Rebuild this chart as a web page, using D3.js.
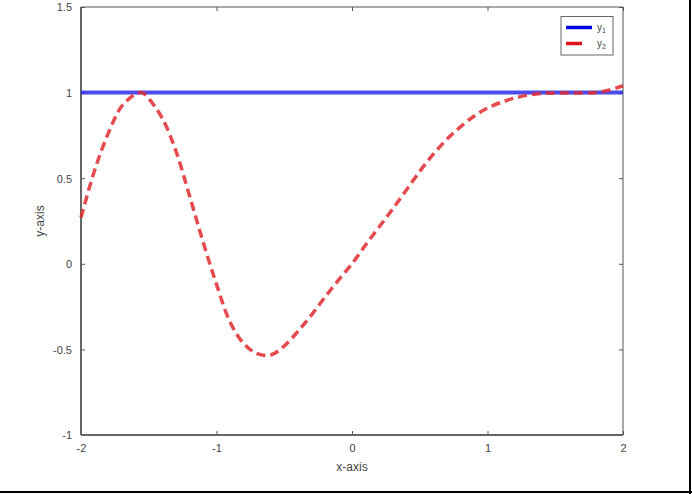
<!DOCTYPE html>
<html>
<head>
<meta charset="utf-8">
<script src="https://cdn.jsdelivr.net/npm/d3@7"></script>
<style>
  body { margin: 0; background: #fff; }
  svg { display: block; }
  text { font-family: "Liberation Sans", Arial, sans-serif; fill: #444; }
</style>
</head>
<body>
<div id="container"></div>
<script>

// data
const xDomain = [-2, 2];
const yDomain = [-1, 1.5];
const xTicks = [-2, -1, 0, 1, 2];
const yTicks = [-1, -0.5, 0, 0.5, 1, 1.5];

const y1X = [-2, 2];
const y1Values = [1, 1];

const y2X = [-2.0, -1.9, -1.8, -1.7, -1.6, -1.55, -1.5, -1.4, -1.3, -1.2, -1.1, -1.0,
    -0.9, -0.8, -0.7, -0.6, -0.5, -0.4, -0.3, -0.2, -0.1, 0.0,
    0.1, 0.2, 0.3, 0.4, 0.5, 0.6, 0.7, 0.8, 0.9, 1.0,
    1.1, 1.2, 1.3, 1.4, 1.5, 1.6, 1.7, 1.8, 1.9, 2.0];
const y2Values = [0.27, 0.545, 0.76, 0.92, 0.99, 1.0, 0.965, 0.85, 0.66, 0.40, 0.13, -0.12,
    -0.34, -0.465, -0.525, -0.533, -0.48, -0.395, -0.30, -0.195, -0.095, 0.0,
    0.11, 0.215, 0.32, 0.43, 0.54, 0.64, 0.727, 0.80, 0.862, 0.91,
    0.943, 0.968, 0.985, 0.995, 0.998, 0.998, 0.998, 1.0, 1.015, 1.04];

const legendLabels = ["1", "2"];

// plain hyphen minus like the original
const tickFormat = d => String(d);

function main() {
    const svgWidth = 692;
    const svgHeight = 494;
    const margin = {left: 81, right: 69, top: 7, bottom: 59};

    const svg = d3.select("#container")
        .append("svg")
        .attr("width", svgWidth)
        .attr("height", svgHeight);

    const xScale = d3.scaleLinear()
        .domain(xDomain)
        .range([margin.left, svgWidth - margin.right]);

    const yScale = d3.scaleLinear()
        .domain(yDomain)
        .range([svgHeight - margin.bottom, margin.top]);

    const x0 = xScale.range()[0], x1 = xScale.range()[1];
    const yb = yScale.range()[0], yt = yScale.range()[1];

    // axes with inward ticks
    const bottomAxis = svg.append("g")
        .attr("transform", `translate(0,${yb})`)
        .call(d3.axisBottom(xScale).tickValues(xTicks).tickSize(-4).tickPadding(9).tickFormat(tickFormat));
    const leftAxis = svg.append("g")
        .attr("transform", `translate(${x0},0)`)
        .call(d3.axisLeft(yScale).tickValues(yTicks).tickSize(-4).tickPadding(9).tickFormat(tickFormat));
    const topAxis = svg.append("g")
        .attr("transform", `translate(0,${yt})`)
        .call(d3.axisTop(xScale).tickValues(xTicks).tickSize(-4).tickFormat(""));
    const rightAxis = svg.append("g")
        .attr("transform", `translate(${x1},0)`)
        .call(d3.axisRight(yScale).tickValues(yTicks).tickSize(-4).tickFormat(""));

    [bottomAxis, leftAxis, topAxis, rightAxis].forEach(g => {
        g.select(".domain").remove();
        g.selectAll(".tick line").attr("stroke", "#555").attr("stroke-width", 1);
        g.selectAll(".tick text")
            .style("font-family", "'Liberation Sans', Arial, sans-serif")
            .style("font-size", "11px")
            .attr("fill", "#444");
    });
    leftAxis.selectAll(".tick text").attr("dy", "0.35em");

    // box
    svg.append("line").attr("x1", x0).attr("x2", x1).attr("y1", yb).attr("y2", yb)
        .attr("stroke", "#666").attr("stroke-width", 2);
    svg.append("line").attr("x1", x0).attr("x2", x0).attr("y1", yt).attr("y2", yb)
        .attr("stroke", "#666").attr("stroke-width", 2);
    svg.append("line").attr("x1", x0).attr("x2", x1).attr("y1", yt).attr("y2", yt)
        .attr("stroke", "#555").attr("stroke-width", 1);
    svg.append("line").attr("x1", x1).attr("x2", x1).attr("y1", yt).attr("y2", yb)
        .attr("stroke", "#555").attr("stroke-width", 1);

    // axis titles
    svg.append("text")
        .attr("x", (x0 + x1) / 2)
        .attr("y", 471)
        .attr("text-anchor", "middle")
        .style("font-size", "12px")
        .text("x-axis");
    svg.append("text")
        .attr("transform", `translate(44,${(yt + yb) / 2}) rotate(-90)`)
        .attr("text-anchor", "middle")
        .style("font-size", "12px")
        .text("y-axis");

    const line = d3.line()
        .x(d => xScale(d[0]))
        .y(d => yScale(d[1]));

    svg.append("path")
        .datum(y1X.map((x, i) => [x, y1Values[i]]))
        .attr("fill", "none")
        .attr("stroke", "#1f1fe8")
        .attr("stroke-opacity", 0.8)
        .attr("stroke-width", 4)
        .attr("d", line);

    svg.append("path")
        .datum(y2X.map((x, i) => [x, y2Values[i]]))
        .attr("fill", "none")
        .attr("stroke", "#e02a30")
        .attr("stroke-opacity", 0.85)
        .attr("stroke-width", 3.5)
        .attr("stroke-dasharray", "9,5")
        .attr("d", line.curve(d3.curveCatmullRom));

    // legend
    const legend = svg.append("g");
    legend.append("rect")
        .attr("x", 561).attr("y", 16.5)
        .attr("width", 52).attr("height", 38.5)
        .attr("fill", "#fff")
        .attr("stroke", "#666")
        .attr("stroke-width", 1);
    legend.append("line")
        .attr("x1", 566).attr("x2", 592).attr("y1", 27.5).attr("y2", 27.5)
        .attr("stroke", "#0000e6").attr("stroke-width", 3.5);
    legend.append("line")
        .attr("x1", 566).attr("x2", 582).attr("y1", 43.5).attr("y2", 43.5)
        .attr("stroke", "#e0141e").attr("stroke-width", 3.5);
    legendLabels.forEach((lab, i) => {
        const t = legend.append("text")
            .attr("x", 597)
            .attr("y", 31 + i * 16)
            .style("font-size", "10px");
        t.append("tspan").text("y");
        t.append("tspan").attr("dy", 2).style("font-size", "7px").text(lab);
    });

    // picture frame (right and bottom)
    svg.append("line").attr("x1", 0).attr("x2", 692).attr("y1", 492).attr("y2", 492)
        .attr("stroke", "#000").attr("stroke-width", 2);
    svg.append("line").attr("x1", 690).attr("x2", 690).attr("y1", 0).attr("y2", 494)
        .attr("stroke", "#000").attr("stroke-width", 2);
}

main();
</script>
</body>
</html>
